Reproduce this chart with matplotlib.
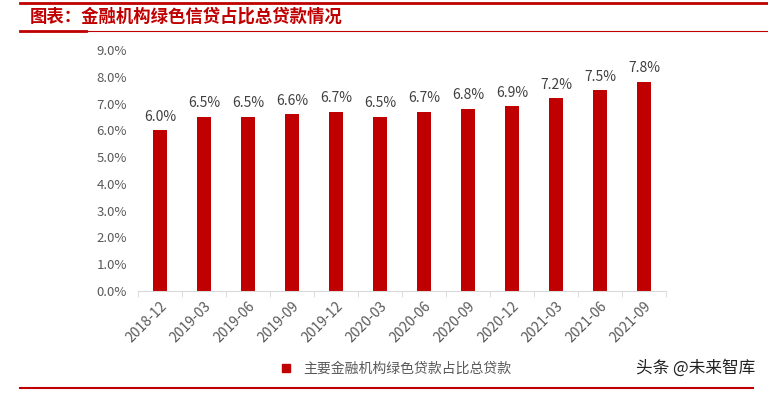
import matplotlib.pyplot as plt
from matplotlib.lines import Line2D

plt.rcParams['font.family'] = ['Noto Sans CJK SC', 'DejaVu Sans']

# 数据
months = ['2018-12', '2019-03', '2019-06', '2019-09', '2019-12', '2020-03',
          '2020-06', '2020-09', '2020-12', '2021-03', '2021-06', '2021-09']
share = [6.0, 6.5, 6.5, 6.6, 6.7, 6.5, 6.7, 6.8, 6.9, 7.2, 7.5, 7.8]
yticks = [0, 1, 2, 3, 4, 5, 6, 7, 8, 9]

red = '#C00000'
grey = '#595959'

fig = plt.figure(figsize=(7.68, 3.94), dpi=100)
ax = fig.add_axes([0.1797, 0.2614, 0.6875, 0.6116])

x = list(range(len(months)))
bars = ax.bar(x, share, width=0.32, color=red, label='主要金融机构绿色贷款占比总贷款')
for xi, v in zip(x, share):
    ax.text(xi, v + 0.25, f'{v:.1f}%', ha='center', va='bottom', fontsize=10, color='#404040')

ax.set_xlim(-0.5, len(months) - 0.5)
ax.set_ylim(0, 9)
ax.set_yticks(yticks)
ax.set_yticklabels([f'{t:.1f}%' for t in yticks], fontsize=9.5, color=grey)
ax.set_xticks(x)
ax.set_xticklabels(months, rotation=45, ha='right', rotation_mode='anchor', fontsize=10, color=grey)
ax.set_xticks([i - 0.5 for i in range(len(months) + 1)], minor=True)
ax.tick_params(axis='x', which='major', length=0, pad=6)
ax.tick_params(axis='x', which='minor', length=4, color='#D9D9D9')
ax.tick_params(axis='y', length=0, pad=8)
for s in ['top', 'right', 'left']:
    ax.spines[s].set_visible(False)
ax.spines['bottom'].set_color('#D9D9D9')

# 图例
handle = Line2D([], [], marker='s', linestyle='', color=red, markersize=6)
fig.legend([handle], ['主要金融机构绿色贷款占比总贷款'], loc='center', bbox_to_anchor=(0.51, 0.063),
           frameon=False, fontsize=10, handletextpad=0.2, labelcolor=grey)

# 标题与框线
fig.text(0.039, 0.957, '图表：金融机构绿色信贷占比总贷款情况', color=red, fontsize=12.5,
         fontweight='bold', style='italic', va='center')
fig.add_artist(Line2D([0.026, 1.0], [0.993, 0.993], color=red, lw=2))
fig.add_artist(Line2D([0.026, 0.112], [0.922, 0.922], color=red, lw=2))
fig.add_artist(Line2D([0.026, 1.0], [0.922, 0.922], color=red, lw=0.8))
fig.add_artist(Line2D([0.026, 0.98], [0.015, 0.015], color=red, lw=1.5))
fig.text(0.983, 0.065, '头条 @未来智库', color='#222222', fontsize=12, ha='right', va='center')

fig.savefig('out.png', dpi=100)
